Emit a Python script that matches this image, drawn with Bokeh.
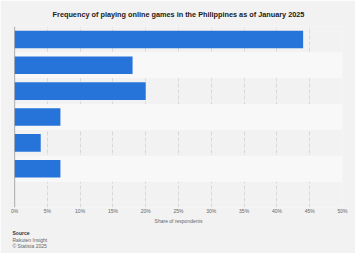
from bokeh.plotting import figure
from bokeh.models import FactorRange, Range1d, Span, Title, FixedTicker, CustomJSTickFormatter
from bokeh.embed import file_html
from bokeh.resources import INLINE

# Frequency of playing online games, share of respondents (%)
categories = ["Daily", "Several times a week", "Once a week",
              "Several times a month", "Once a month", "Less often", "Never"]
shares = [44, 18, 20, 7, 4, 7, 0]
tick_values = [0, 5, 10, 15, 20, 25, 30, 35, 40, 45, 50]

title_text = "Frequency of playing online games in the Philippines as of January 2025"
source_head = "Source"
source_body = "Rakuten Insight\n© Statista 2025"

BG = "#f2f2f2"
BAND = "#f8f8f8"
BLUE = "#2674d9"
FONT = "Liberation Sans"

p = figure(
    width=355, height=253,
    y_range=FactorRange(factors=list(reversed(categories)), range_padding=0),
    x_range=Range1d(0, 50),
    output_backend="svg", toolbar_location=None,
    min_border_left=14, min_border_right=13, min_border_top=26, min_border_bottom=46,
    background_fill_color=BG, border_fill_color=BG, outline_line_color=None,
)

p.title = Title(text=title_text, align="center", vertical_align="top", text_font=FONT,
                text_font_size="7.3px", text_font_style="bold", text_color="#1a1a1a",
                standoff=12)

# alternating row bands
band_rows = [c for i, c in enumerate(categories) if i % 2 == 1]
p.hbar(y=band_rows, left=0, right=50, height=1.0, color=BAND, line_color=None)

p.hbar(y=categories, left=0, right=shares, height=0.68, color=BLUE, line_color=None)

p.xgrid.ticker = FixedTicker(ticks=tick_values)
p.xgrid.grid_line_color = "#d8d8d8"
p.xgrid.grid_line_dash = "4 2"
p.xgrid.grid_line_width = 1
p.ygrid.grid_line_color = None

p.add_layout(Span(location=0, dimension="height", line_color="#7a7a7a", line_width=1.2))

p.yaxis.visible = False

xa = p.xaxis[0]
xa.ticker = FixedTicker(ticks=tick_values)
xa.formatter = CustomJSTickFormatter(code="return tick + '%';")
xa.axis_line_color = None
xa.major_tick_line_color = None
xa.minor_tick_line_color = None
xa.major_tick_out = 0
xa.major_label_text_font = FONT
xa.major_label_text_font_size = "5px"
xa.major_label_text_color = "#666666"
xa.major_label_standoff = 0
xa.axis_label = "Share of respondents"
xa.axis_label_text_font = FONT
xa.axis_label_text_font_size = "5px"
xa.axis_label_text_font_style = "normal"
xa.axis_label_text_color = "#666666"
xa.axis_label_standoff = 1

p.add_layout(Title(text=source_head, align="left", text_font=FONT, text_font_size="5px",
                   text_font_style="bold", text_color="#333333", offset=-2, standoff=3), "below")
p.add_layout(Title(text=source_body, align="left", text_font=FONT, text_font_size="5px",
                   text_font_style="normal", text_color="#666666", text_line_height=1.0,
                   offset=-2, standoff=-6), "below")

open("out.html", "w").write(file_html(p, INLINE))
